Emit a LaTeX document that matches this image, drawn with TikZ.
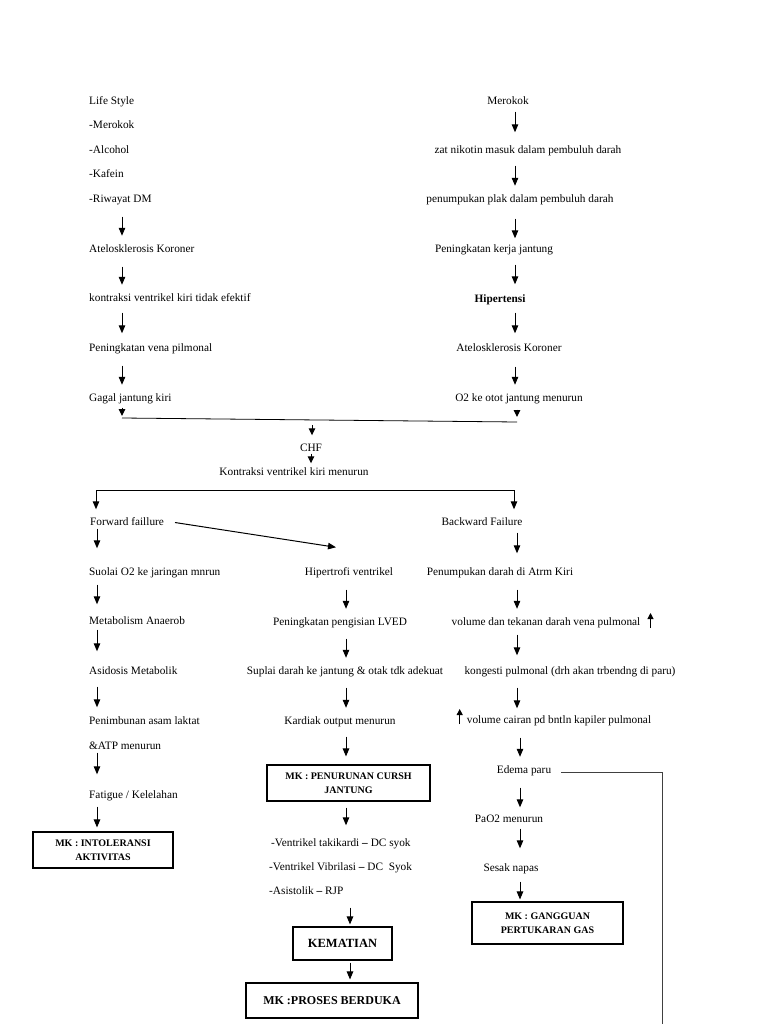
\documentclass[tikz,border=0pt]{standalone}
\usepackage{fontspec}
\setmainfont{Liberation Serif}
\usetikzlibrary{arrows.meta,calc}
\tikzset{
  txt/.style={font=\fontsize{11.3}{13}\selectfont, inner sep=1pt, text height=9pt, text depth=0pt},
  mkbox/.style={draw, line width=1.1pt, align=center, inner sep=2pt, font=\bfseries\fontsize{10}{14}\selectfont},
  arr/.style={line width=1pt, -{Triangle[width=6.5pt,length=8pt]}, shorten <=11pt, shorten >=6.5pt},
  tri/.style={line width=1pt, -{Triangle[width=6.5pt,length=7pt]}},
  uparr/.style={line width=1pt, -{Triangle[width=6pt,length=6pt]}},
}

\begin{document}
\begin{tikzpicture}[x=1pt, y=-1pt]
			%%%%% START %%%%%
			\useasboundingbox (0,0) rectangle (768,1024);

			\coordinate (lx) at (122,0);
			\coordinate (rx) at (515,0);
			\coordinate (fx) at (97,0);
			\coordinate (mx) at (346,0);
			\coordinate (mx2) at (350,0);
			\coordinate (bx) at (517,0);
			\coordinate (bx2) at (520,0);

			\node[txt, anchor=west] (ls1) at (88,100) {Life Style};
			\node[txt, anchor=west] (ls2) at (88,124.5) {-Merokok};
			\node[txt, anchor=west] (ls3) at (88,149) {-Alcohol};
			\node[txt, anchor=west] (ls4) at (88,173) {-Kafein};
			\node[txt, anchor=west] (ls5) at (88,198) {-Riwayat DM};
			\node[txt, anchor=west] (la1) at (88,248) {Atelosklerosis Koroner};
			\node[txt, anchor=west] (la2) at (88,297) {kontraksi ventrikel kiri tidak efektif};
			\node[txt, anchor=west] (la3) at (88,347) {Peningkatan vena pilmonal};
			\node[txt, anchor=west] (la4) at (88,397) {Gagal jantung kiri};

			\draw[arr, shorten <=13pt] (ls5.south -| lx) -- (la1.north -| lx);
			\draw[arr, shorten <=13pt] (la1.south -| lx) -- (la2.north -| lx);
			\draw[arr, shorten <=10pt, shorten >=8pt] (la2.south -| lx) -- (la3.north -| lx);
			\draw[arr, shorten <=13pt] (la3.south -| lx) -- (la4.north -| lx);

			\node[txt] (ra0) at (508,100) {Merokok};
			\node[txt] (ra1) at (528,149) {zat nikotin masuk dalam pembuluh darah};
			\node[txt] (ra2) at (520,198) {penumpukan plak dalam pembuluh darah};
			\node[txt] (ra3) at (494,248) {Peningkatan kerja jantung};
			\node[txt] (ra4) at (500,298) {\textbf{Hipertensi}};
			\node[txt] (ra5) at (509,347) {Atelosklerosis Koroner};
			\node[txt] (ra6) at (519,397) {O2 ke otot jantung menurun};

			\draw[arr, shorten <=6pt, shorten >=11pt] (ra0.south -| rx) -- (ra1.north -| rx);
			\draw[arr] (ra1.south -| rx) -- (ra2.north -| rx);
			\draw[arr, shorten <=15pt, shorten >=4pt] (ra2.south -| rx) -- (ra3.north -| rx);
			\draw[arr, shorten >=8pt] (ra3.south -| rx) -- (ra4.north -| rx);
			\draw[arr, shorten <=9pt, shorten >=8pt] (ra4.south -| rx) -- (ra5.north -| rx);
			\draw[arr, shorten <=14pt] (ra5.south -| rx) -- (ra6.north -| rx);

			\coordinate (jl) at (122,418);
			\coordinate (jm) at (312,420);
			\coordinate (jr) at (517,422);
			\draw[line width=0.8pt] (jl) -- (jr);
			\draw[tri, shorten <=5pt, shorten >=2pt] (la4.south -| jl) -- (jl);
			\draw[tri, shorten <=7pt, shorten >=5pt] (ra6.south -| jr) -- (jr);

			\node[txt] (chf) at (311,447) {CHF};
			\node[txt] (kvk) at (294,471) {Kontraksi ventrikel kiri menurun};
			\draw[tri, shorten <=5pt, shorten >=6pt] (jm) -- (chf.north -| jm);
			\draw[tri, shorten <=1pt, shorten >=2pt] (chf.south) -- (chf.south |- kvk.north);

			\node[txt, anchor=west] (fwd) at (89,521) {Forward faillure};
			\node[txt] (bwd) at (482,521) {Backward Failure};
			\coordinate (bl) at (96,490);
			\coordinate (br) at (514,490);
			\draw[line width=1pt, {Triangle[width=6.5pt,length=8pt]}-{Triangle[width=6.5pt,length=8pt]}, shorten <=6pt, shorten >=6pt] (fwd.north -| bl) |- (br) -- (bwd.north -| br);

			\node[txt, anchor=west] (lf1) at (88,571) {Suolai O2 ke jaringan mnrun};
			\node[txt, anchor=west] (lf2) at (88,620) {Metabolism Anaerob};
			\node[txt, anchor=west] (lf3) at (88,670) {Asidosis Metabolik};
			\node[txt, anchor=west] (lf4) at (88,720) {Penimbunan asam laktat};
			\node[txt, anchor=west] (lf5) at (88,745) {\&ATP menurun};
			\node[txt, anchor=west] (lf6) at (88,794) {Fatigue / Kelelahan};
			\node[mkbox, minimum width=140pt, minimum height=36pt] (mk1) at (103,850) {MK : INTOLERANSI\\AKTIVITAS};

			\draw[arr, shorten <=2pt, shorten >=17pt] (fwd.south -| fx) -- (lf1.north -| fx);
			\draw[arr, shorten <=8pt, shorten >=10pt] (lf1.south -| fx) -- (lf2.north -| fx);
			\draw[arr, shorten <=4pt, shorten >=13pt] (lf2.south -| fx) -- (lf3.north -| fx);
			\draw[arr, shorten <=11pt, shorten >=7pt] (lf3.south -| fx) -- (lf4.north -| fx);
			\draw[arr, shorten <=2pt, shorten >=14pt] (lf5.south -| fx) -- (lf6.north -| fx);
			\draw[arr, shorten <=7pt, shorten >=4pt] (lf6.south -| fx) -- (mk1.north -| fx);

			\node[txt] (md1) at (349,571) {Hipertrofi ventrikel};
			\node[txt] (md2) at (340,621) {Peningkatan pengisian LVED};
			\node[txt] (md3) at (345,670) {Suplai darah ke jantung \& otak tdk adekuat};
			\node[txt] (md4) at (340,720) {Kardiak output menurun};
			\node[mkbox, minimum width=163pt, minimum height=36pt] (mk2) at (348.5,783) {MK : PENURUNAN CURSH\\JANTUNG};
			\node[txt, anchor=west] (md5) at (270,842) {-Ventrikel takikardi \textbf{--} DC syok};
			\node[txt, anchor=west] (md6) at (268,866) {-Ventrikel Vibrilasi \textbf{--} DC\ \ Syok};
			\node[txt, anchor=west] (md7) at (268,890) {-Asistolik \textbf{--} RJP};
			\node[mkbox, font=\bfseries\fontsize{12.5}{14}\selectfont, minimum width=99pt, minimum height=33pt] (mk3) at (342.5,943.5) {KEMATIAN};
			\node[mkbox, font=\bfseries\fontsize{12}{14}\selectfont, minimum width=172pt, minimum height=35pt] (mk4) at (332,1000.5) {MK :PROSES BERDUKA};

			\draw[arr, shorten <=10pt, shorten >=0pt] (fwd.east) -- ([xshift=-13pt,yshift=18pt]md1.north);

			\draw[arr, shorten <=13pt] (md1.south -| mx) -- (md2.north -| mx);
			\draw[arr, shorten <=12pt] (md2.south -| mx) -- (md3.north -| mx);
			\draw[arr, shorten <=12pt] (md3.south -| mx) -- (md4.north -| mx);
			\draw[arr, shorten >=8pt] (md4.south -| mx) -- (mk2.north -| mx);
			\draw[arr, shorten <=6pt, shorten >=11pt] (mk2.south -| mx) -- (md5.north -| mx);
			\draw[arr, shorten <=12pt, shorten >=2pt] (md7.south -| mx2) -- (mk3.north -| mx2);
			\draw[arr, shorten <=2pt, shorten >=3pt] (mk3.south -| mx2) -- (mk4.north -| mx2);

			\node[txt] (rb1) at (500,571) {Penumpukan darah di Atrm Kiri};
			\node[txt] (rb2) at (546,621) {volume dan tekanan darah vena pulmonal};
			\node[txt] (rb3) at (570,670) {kongesti pulmonal (drh akan trbendng di paru)};
			\node[txt] (rb4) at (559,719) {volume cairan pd bntln kapiler pulmonal};
			\node[txt] (rb5) at (524,769) {Edema paru};
			\node[txt] (rb6) at (509,818) {PaO2 menurun};
			\node[txt] (rb7) at (511,867) {Sesak napas};
			\node[mkbox, minimum width=151pt, minimum height=42pt] (mk5) at (547.5,923) {MK : GANGGUAN\\PERTUKARAN GAS};

			\draw[arr, shorten <=6pt, shorten >=12pt] (bwd.south -| bx) -- (rb1.north -| bx);
			\draw[arr, shorten <=13pt] (rb1.south -| bx) -- (rb2.north -| bx);
			\draw[arr, shorten <=8pt, shorten >=9pt] (rb2.south -| bx) -- (rb3.north -| bx);
			\draw[arr, shorten <=12pt, shorten >=5pt] (rb3.south -| bx) -- (rb4.north -| bx);
			\draw[arr, shorten <=13pt] (rb4.south -| bx2) -- (rb5.north -| bx2);
			\draw[arr, shorten <=13pt, shorten >=5pt] (rb5.south -| bx2) -- (rb6.north -| bx2);
			\draw[arr, shorten <=5pt, shorten >=13pt] (rb6.south -| bx2) -- (rb7.north -| bx2);
			\draw[arr, shorten <=9pt, shorten >=2pt] (rb7.south -| bx2) -- (mk5.north -| bx2);

			\coordinate (up1) at ([xshift=9pt,yshift=-7pt]rb2.east);
			\coordinate (up1t) at ([xshift=9pt,yshift=8pt]rb2.east);
			\draw[uparr] (up1) -- (up1t);
			\coordinate (up2) at ([xshift=-6pt,yshift=-5pt]rb4.west);
			\coordinate (up2t) at ([xshift=-6pt,yshift=10pt]rb4.west);
			\draw[uparr] (up2) -- (up2t);

			\coordinate (edgo) at (662,1024);
			\draw[line width=0.7pt, black!75, shorten <=9pt] ([yshift=-3pt]rb5.east) -| (edgo);

			%%%%% END %%%%%
\end{tikzpicture}
\end{document}
